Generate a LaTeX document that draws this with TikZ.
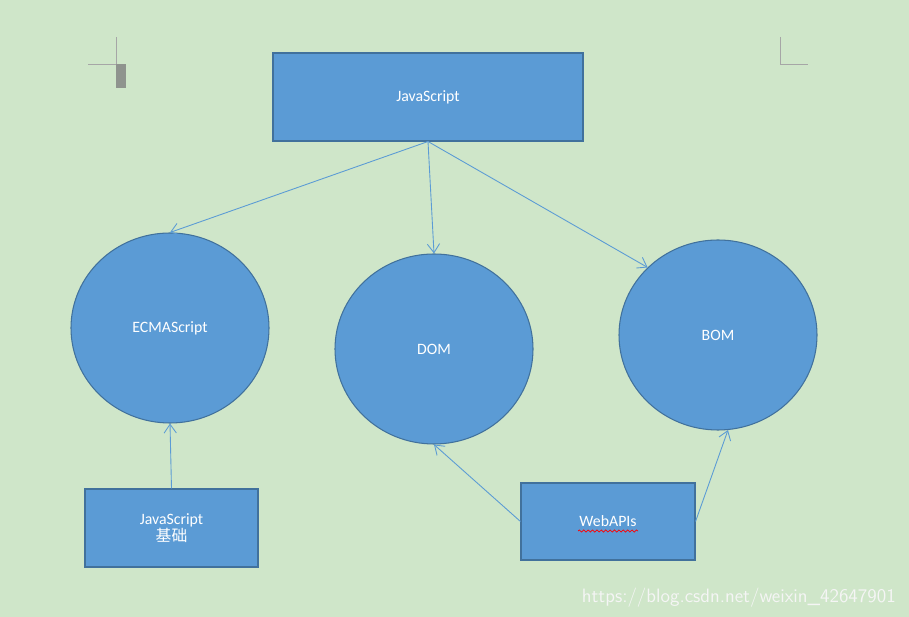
\documentclass[tikz,border=0pt]{standalone}
\usepackage{fontspec}
\setmainfont{Carlito}
\newfontfamily\cjk{Noto Sans CJK SC}
\usetikzlibrary{positioning}
\usetikzlibrary{shapes.geometric}
\usetikzlibrary{decorations.pathmorphing}
\definecolor{bgGreen}{RGB}{207,230,201}
\definecolor{boxBlue}{RGB}{91,155,213}
\definecolor{edgeBlue}{RGB}{65,113,156}
\begin{document}
\begin{tikzpicture}[x=0.02cm,y=-0.02cm,
  box/.style={draw=edgeBlue, fill=boxBlue, line width=0.6pt, text=white, font=\small, align=center},
  blob/.style={box, ellipse},
  link/.style={->, >={Straight Barb[length=5pt,width=7pt]}, draw=boxBlue, line width=0.5pt}]
\usetikzlibrary{arrows.meta}

\fill[bgGreen] (0,0) rectangle (909,617);
\useasboundingbox (0,0) rectangle (909,617);

% corner marks
\draw[gray!70, line width=0.4pt] (88,64) -- (116,64) -- (116,37);
\fill[gray!80!bgGreen] (116,64) rectangle (126,88);
\draw[gray!70, line width=0.4pt] (780,37) -- (780,64) -- (808,64);

% nodes
\node[box, minimum width=310*0.02cm, minimum height=88*0.02cm] (js) at (428,97) {JavaScript};
\node[blob, minimum width=198*0.02cm, minimum height=190*0.02cm] (ecma) at (170,328) {ECMAScript};
\node[blob, minimum width=198*0.02cm, minimum height=190*0.02cm] (dom) at (434,349) {DOM};
\node[blob, minimum width=198*0.02cm, minimum height=190*0.02cm] (bom) at (718,335) {BOM};
\node[box, minimum width=173*0.02cm, minimum height=78*0.02cm] (base) at (171.5,528) {JavaScript\\[-1pt]{\cjk 基础}};
\node[box, minimum width=174*0.02cm, minimum height=77*0.02cm] (api) at (608,521.5) {WebAPIs};
\draw[red, line width=0.4pt, decorate, decoration={snake, amplitude=0.6pt, segment length=2.5pt}]
  (578,531) -- (638,531);

% connectors
\draw[link] (js.south) -- (ecma.north);
\draw[link] (js.south) -- (dom.north);
\draw[link] (js.south) -- (bom.north west);
\draw[link] (base.north) -- (ecma.south);
\draw[link] (api.west) -- (dom.south);
\draw[link] (api.east) -- (bom.-84);

\node[text=white!92!gray, font=\fontsize{11}{13}\selectfont\sffamily, anchor=east] (mark) at (902,598) {https://blog.csdn.net/weixin\_42647901};
\end{tikzpicture}
\end{document}
